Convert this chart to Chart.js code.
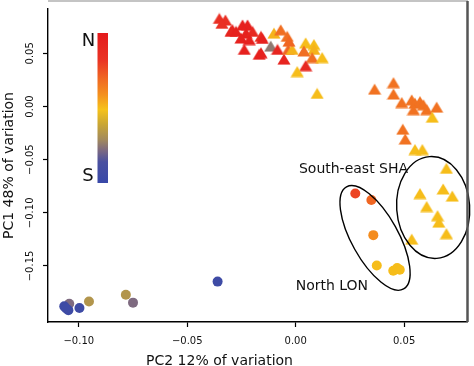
<!DOCTYPE html>
<html>
<head>
<meta charset="utf-8">
<script src="https://cdn.jsdelivr.net/npm/chart.js@4/dist/chart.umd.min.js"></script>
<style>
  html, body { margin: 0; padding: 0; background: #fff; }
  #wrap { width: 474px; height: 366px; }
</style>
</head>
<body>
<div id="wrap"><canvas id="pca" width="474" height="366"></canvas></div>
<script>
/* ---------- Données : PCA, triangles et cercles ---------- */
// latitude : 1 = nord (rouge), 0 = sud (bleu)
const triX = [
  -0.0352, -0.0324, -0.0340, -0.0298, -0.0292, -0.0275, -0.0245, -0.0222, -0.0229, -0.0199,
  -0.0252, -0.0214, -0.0160, -0.0154, -0.0237, -0.0168, -0.0160, -0.0115, -0.0084, -0.0054,
  -0.0034, -0.0016, -0.0100, -0.0069, -0.0039, -0.0031, 0.0046, 0.0084, 0.0084, 0.0038,
  0.0076, 0.0122, 0.0046, 0.0007, 0.0099,
  0.0364, 0.0451, 0.0451, 0.0489, 0.0535, 0.0550, 0.0573, 0.0589, 0.0543, 0.0604,
  0.0650, 0.0630, 0.0494, 0.0505, 0.0550, 0.0584,
  0.0695, 0.0573, 0.0680, 0.0722, 0.0604, 0.0654, 0.0660, 0.0695, 0.0535
];
const triY = [
  0.0828, 0.0813, 0.0782, 0.0706, 0.0724, 0.0706, 0.0767, 0.0767, 0.0690, 0.0706,
  0.0644, 0.0629, 0.0660, 0.0640, 0.0537, 0.0491, 0.0506, 0.0568, 0.0537, 0.0445,
  0.0537, 0.0537, 0.0690, 0.0721, 0.0660, 0.0614, 0.0598, 0.0583, 0.0537, 0.0522,
  0.0460, 0.0460, 0.0384, 0.0328, 0.0123,
  0.0163, 0.0224, 0.0117, 0.0037, 0.0062, 0.0031, 0.0046, 0.0016, -0.0030, -0.0030,
  -0.0006, -0.0101, -0.0214, -0.0306, -0.0405, -0.0405,
  -0.0582, -0.0819, -0.0776, -0.0843, -0.0941, -0.1027, -0.1088, -0.1196, -0.1248
];
const triLat = [
  0.85, 0.85, 0.85, 0.93, 0.93, 0.95, 0.95, 0.95, 0.95, 0.90,
  0.95, 0.95, 0.86, 0.95, 0.95, 0.95, 0.95, 0.25, 0.92, 0.92,
  0.70, 0.52, 0.52, 0.68, 0.68, 0.70, 0.50, 0.50, 0.52, 0.68,
  0.68, 0.50, 0.90, 0.50, 0.50,
  0.67, 0.67, 0.67, 0.67, 0.67, 0.67, 0.67, 0.67, 0.67, 0.67,
  0.67, 0.50, 0.67, 0.67, 0.50, 0.50,
  0.50, 0.50, 0.50, 0.50, 0.50, 0.50, 0.50, 0.50, 0.50
];

const circX = [0.0275, 0.0349, 0.0358, 0.0374, 0.0450, 0.0468, 0.0480,
  -0.0360, -0.0783, -0.0750, -0.0953, -0.0997, -0.1044, -0.1067, -0.1048, -0.1058];
const circY = [-0.0819, -0.0880, -0.1210, -0.1496, -0.1545, -0.1520, -0.1535,
  -0.1647, -0.1770, -0.1845, -0.1834, -0.1895, -0.1855, -0.1880, -0.1916, -0.1900];
const circLat = [0.78, 0.70, 0.60, 0.50, 0.50, 0.50, 0.50,
  0.05, 0.33, 0.22, 0.33, 0.05, 0.22, 0.05, 0.05, 0.05];

const xTitle = "PC2 12% of variation";
const yTitle = "PC1 48% of variation";

/* ---------- Palette nord -> sud (barre de couleur) ---------- */
const stops = [
  [0.00, [56, 72, 168]], [0.14, [74, 80, 160]], [0.22, [126, 106, 128]],
  [0.29, [163, 138, 92]], [0.39, [201, 166, 52]], [0.49, [246, 194, 26]],
  [0.59, [244, 144, 30]], [0.69, [240, 106, 34]], [0.82, [234, 51, 36]],
  [1.00, [228, 26, 28]]
];
function latColor(t) {
  for (let i = 1; i < stops.length; i++) {
    if (t <= stops[i][0]) {
      const [t0, c0] = stops[i - 1], [t1, c1] = stops[i];
      const f = (t - t0) / (t1 - t0);
      const c = c0.map((v, k) => Math.round(v + (c1[k] - v) * f));
      return `rgb(${c[0]},${c[1]},${c[2]})`;
    }
  }
  return "rgb(228,26,28)";
}

// triangle façon matplotlib : centré sur sa boîte englobante
const triCache = {};
function triangleImage(color) {
  if (triCache[color]) return triCache[color];
  const c = document.createElement("canvas");
  c.width = 14; c.height = 12;
  const g = c.getContext("2d");
  g.fillStyle = color;
  g.beginPath();
  g.moveTo(7, 0.4);
  g.lineTo(13.6, 11.6);
  g.lineTo(0.4, 11.6);
  g.closePath();
  g.fill();
  triCache[color] = c;
  return c;
}

const fmt = v => (v < -1e-9 ? "\u2212" : "") + Math.abs(v).toFixed(2);
const FONT = "DejaVu Sans";

/* ---------- Décorations : titres, barre, ellipses ---------- */
const decor = {
  id: "decor",
  afterDatasetsDraw(chart) {
    const { ctx, scales: { x, y } } = chart;
    ctx.save();
    ctx.strokeStyle = "#000";
    ctx.lineWidth = 1.4;
    // ellipses (centre en données)
    [[0.0366, -0.1236, 58.5, 23.3, 60.8], [0.0634, -0.0950, 36.5, 51, -4]].forEach(e => {
      ctx.beginPath();
      ctx.ellipse(x.getPixelForValue(e[0]), y.getPixelForValue(e[1]), e[2], e[3],
        e[4] * Math.PI / 180, 0, Math.PI * 2);
      ctx.stroke();
    });
    ctx.fillStyle = "#111";
    ctx.font = `14px '${FONT}'`;
    ctx.textAlign = "left";
    ctx.textBaseline = "alphabetic";
    ctx.fillText("South-east SHA", x.getPixelForValue(0.0015), y.getPixelForValue(-0.0622));
    ctx.fillText("North LON", x.getPixelForValue(0.0), y.getPixelForValue(-0.1723));
    ctx.restore();
  },
  afterDraw(chart) {
    const { ctx, chartArea: a, scales: { y } } = chart;
    ctx.save();
    // cadre haut / droit
    ctx.strokeStyle = "#c4c4c4";
    ctx.lineWidth = 2;
    ctx.beginPath(); ctx.moveTo(a.left, 1); ctx.lineTo(a.right + 1, 1); ctx.stroke();
    ctx.strokeStyle = "#555";
    ctx.lineWidth = 2.5;
    ctx.beginPath(); ctx.moveTo(a.right + 0.5, 1); ctx.lineTo(a.right + 0.5, a.bottom); ctx.stroke();

    // étiquettes de l'axe y, tournées
    ctx.fillStyle = "#111";
    ctx.font = `10px '${FONT}'`;
    ctx.textAlign = "center";
    ctx.textBaseline = "middle";
    y.ticks.forEach(t => {
      ctx.save();
      ctx.translate(30, y.getPixelForValue(t.value));
      ctx.rotate(-Math.PI / 2);
      ctx.fillText(fmt(t.value), 0, 0);
      ctx.restore();
    });

    // titres des axes
    ctx.font = `14px '${FONT}'`;
    ctx.textBaseline = "alphabetic";
    ctx.fillText(xTitle, 219.5, 365);
    ctx.save();
    ctx.translate(12.5, (a.top + a.bottom) / 2);
    ctx.rotate(-Math.PI / 2);
    ctx.fillText(yTitle, 0, 0);
    ctx.restore();

    // barre de couleur N -> S
    const gx = 97.5, gTop = 33, gW = 10.5, gH = 150;
    const grad = ctx.createLinearGradient(0, gTop, 0, gTop + gH);
    stops.forEach(s => grad.addColorStop(1 - s[0], `rgb(${s[1].join(",")})`));
    ctx.fillStyle = grad;
    ctx.fillRect(gx, gTop, gW, gH);
    ctx.fillStyle = "#111";
    ctx.font = `18px '${FONT}'`;
    ctx.textBaseline = "middle";
    ctx.fillText("N", 88.5, 41);
    ctx.fillText("S", 88, 176);
    ctx.restore();
  }
};

/* ---------- Graphique ---------- */
new Chart(document.getElementById("pca"), {
  type: "scatter",
  data: {
    datasets: [{
      data: triX.map((v, i) => ({ x: v, y: triY[i] })),
      pointStyle: triLat.map(t => triangleImage(latColor(t))),
      pointRadius: 7,
      borderWidth: 0,
      backgroundColor: triLat.map(latColor)
    }, {
      data: circX.map((v, i) => ({ x: v, y: circY[i] })),
      pointStyle: "circle",
      pointRadius: 5,
      borderWidth: 0,
      backgroundColor: circLat.map(latColor)
    }]
  },
  options: {
    responsive: false,
    animation: false,
    layout: { padding: { top: 2, right: 5, left: 0, bottom: 0 } },
    plugins: { legend: { display: false }, tooltip: { enabled: false } },
    scales: {
      x: {
        type: "linear",
        min: -0.1142, max: 0.0790,
        afterFit: s => { s.height = 44; },
        ticks: {
          stepSize: 0.05, includeBounds: false, padding: 8, color: "#111",
          font: { family: FONT, size: 10 }, callback: v => fmt(v), maxRotation: 0
        },
        grid: { drawOnChartArea: false, tickLength: 5, tickColor: "#000", tickWidth: 1.2 },
        border: { color: "#000", width: 1.4 }
      },
      y: {
        type: "linear",
        min: -0.2027, max: 0.0917,
        afterFit: s => { s.width = 48; },
        afterBuildTicks: s => { s.ticks = s.ticks.filter(t => t.value > -0.199); },
        ticks: {
          stepSize: 0.05, includeBounds: false, color: "rgba(0,0,0,0)",
          font: { family: FONT, size: 10 }, callback: v => fmt(v)
        },
        grid: { drawOnChartArea: false, tickLength: 5, tickColor: "#000", tickWidth: 1.2 },
        border: { color: "#000", width: 1.4 }
      }
    }
  },
  plugins: [decor]
});
</script>
</body>
</html>
